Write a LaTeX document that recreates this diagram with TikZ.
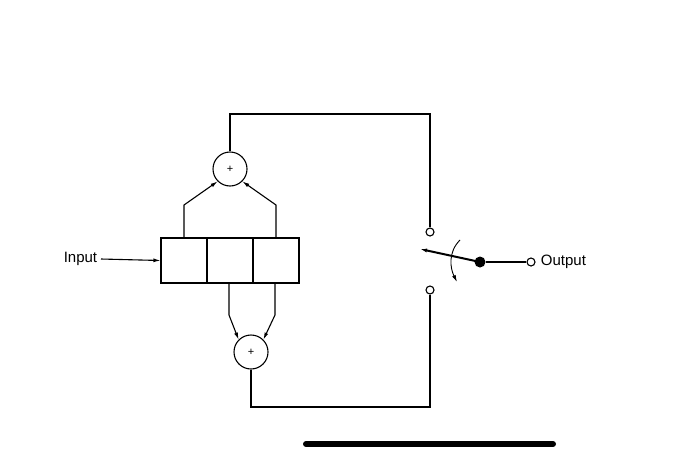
\documentclass[tikz,border=0pt]{standalone}
\usepackage{fontspec}
\setmainfont{Liberation Sans}
\usetikzlibrary{arrows.meta}
\begin{document}
\begin{tikzpicture}[x=1pt,y=-1pt,line width=1.1pt,
  arr/.style={-{Latex[length=7pt,width=4pt]}},
  adder/.style={circle,draw,minimum size=34pt,inner sep=0pt,font=\fontsize{11}{12}\selectfont},
  reg/.style={draw,minimum width=46pt,minimum height=45pt,inner sep=0pt},
  term/.style={circle,draw,minimum size=8pt,inner sep=0pt,fill=white},
  lbl/.style={font=\fontsize{15}{18}\selectfont}]
\useasboundingbox (0,0) rectangle (700,458);
\node[reg] (r1) at (184,260.5) {};
\node[reg] (r2) at (230,260.5) {};
\node[reg] (r3) at (276,260.5) {};
\node[adder] (a1) at (230,169) {+};
\node[adder] (a2) at (251,352) {+};
\node[lbl,anchor=east] (in) at (101,259) {Input};
\draw[arr] (in.east) -- (r1.west);
\coordinate (u1) at (184,205); \coordinate (u2) at (276,205);
\draw[arr] (184,238) -- (u1) -- (a1.225);
\draw[arr] (276,238) -- (u2) -- (a1.-45);
\coordinate (d1) at (229,315); \coordinate (d2) at (275,315);
\draw[arr] (229,283) -- (d1) -- (a2.135);
\draw[arr] (275,283) -- (d2) -- (a2.45);
\node[term] (t1) at (430,232) {};
\node[term] (t2) at (430,290) {};
\draw (a1.north) -- (230,114) -- (430,114) -- (t1.north);
\draw (a2.south) -- (251,407) -- (430,407) -- (t2.south);
\node[circle,fill,minimum size=11pt,inner sep=0pt] (p) at (480,262) {};
\node[term] (o) at (531,262) {};
\node[lbl,anchor=west] at (537,262) {Output};
\draw (p) -- (o.west);
\coordinate (sw) at (420,249);
\draw[arr,line width=2pt] (p.center) -- (sw);
\draw[arr,line width=0.9pt] (460,240) .. controls (448,252) and (450,268) .. (457,282);
\draw[line width=6pt,line cap=round] (306,444) -- (553,444);
\end{tikzpicture}
\end{document}
